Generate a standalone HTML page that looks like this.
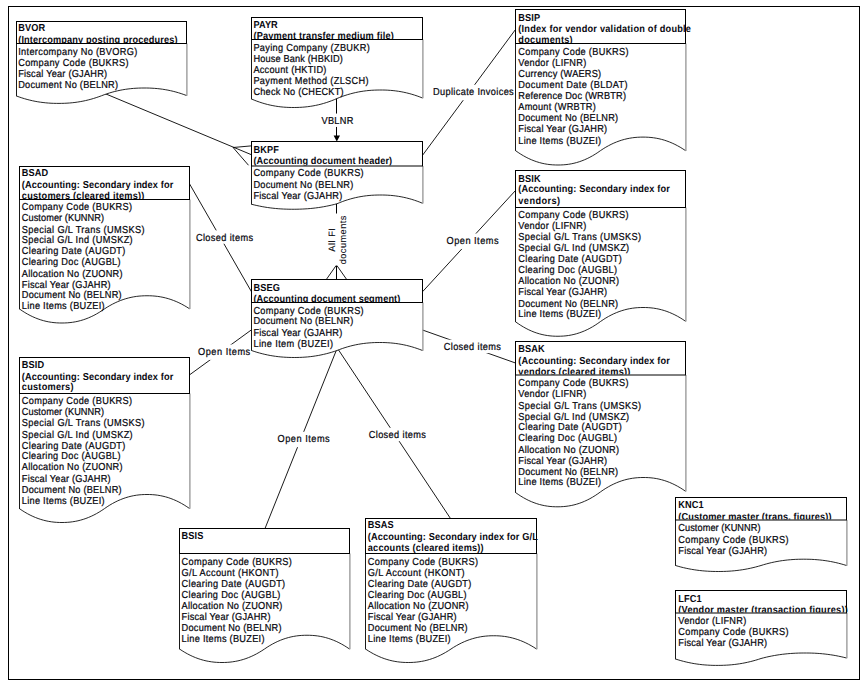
<!DOCTYPE html>
<html><head><meta charset="utf-8"><title>FI tables</title>
<style>html,body{margin:0;padding:0;background:#fff;}body{width:865px;height:682px;overflow:hidden;}svg{display:block;}text{font-family:"Liberation Sans",sans-serif;font-size:9.2px;fill:#08080f;text-rendering:geometricPrecision;}.r{letter-spacing:0.32px;stroke:#08080f;stroke-width:0.22px;}.b{font-weight:bold;letter-spacing:0.12px;}.ln{stroke:#000;stroke-width:0.9;fill:none;}</style></head><body>
<svg width="865" height="682" viewBox="0 0 865 682">
<rect x="0" y="0" width="865" height="682" fill="#fff"/>
<rect x="8.5" y="6.5" width="851" height="673" fill="none" stroke="#000" stroke-width="1"/>
<line class="ln" style="stroke-width:0.9" x1="100" y1="91.5" x2="251.5" y2="154.75"/>
<line class="ln" style="stroke-width:0.9" x1="233.1" y1="147.5" x2="255.4" y2="145.5"/>
<line class="ln" style="stroke-width:0.9" x1="233.1" y1="147.5" x2="248.5" y2="165.25"/>
<line class="ln" style="stroke-width:1" x1="336.5" y1="95" x2="336.5" y2="138"/>
<path d="M336.8 141.5 L333.6 135.6 L340.0 135.6 Z" fill="#000"/>
<line class="ln" style="stroke-width:0.9" x1="515.5" y1="29.5" x2="422.5" y2="155.3"/>
<line class="ln" style="stroke-width:1" x1="336.5" y1="200" x2="336.5" y2="279.5"/>
<line class="ln" style="stroke-width:0.9" x1="336.5" y1="265" x2="326.3" y2="279.5"/>
<line class="ln" style="stroke-width:0.9" x1="336.5" y1="265" x2="346.7" y2="279.5"/>
<line class="ln" style="stroke-width:0.9" x1="189.5" y1="183.8" x2="251.5" y2="291.8"/>
<line class="ln" style="stroke-width:0.9" x1="515.5" y1="190.5" x2="422.5" y2="291.75"/>
<line class="ln" style="stroke-width:0.9" x1="422.5" y1="330" x2="515.5" y2="363"/>
<line class="ln" style="stroke-width:0.9" x1="251.5" y1="329.8" x2="189.5" y2="374.9"/>
<line class="ln" style="stroke-width:0.9" x1="337.25" y1="348" x2="265" y2="528.5"/>
<line class="ln" style="stroke-width:0.9" x1="337.25" y1="348" x2="450.5" y2="518.5"/>
<rect x="320.50" y="113.55" width="33.60" height="13.40" fill="#fff"/>
<text class="r" transform="translate(321.50 123.85) scale(1 1.1)" textLength="32.20" lengthAdjust="spacing">VBLNR</text>
<rect x="431.95" y="84.80" width="82.50" height="15.40" fill="#fff"/>
<text class="r" transform="translate(432.95 95.10) scale(1 1.1)" textLength="81.10" lengthAdjust="spacing">Duplicate Invoices</text>
<rect x="324.5" y="213.5" width="25" height="52" fill="#fff"/>
<text class="r" style="stroke-width:0.1px" transform="translate(335.20 239.80) rotate(-90)" x="-12.00" y="0" textLength="24.00" lengthAdjust="spacing">All FI</text>
<text class="r" style="stroke-width:0.1px" transform="translate(345.90 239.80) rotate(-90)" x="-24.50" y="0" textLength="49.00" lengthAdjust="spacing">documents</text>
<rect x="194.90" y="230.35" width="59.00" height="13.40" fill="#fff"/>
<text class="r" transform="translate(195.90 240.65) scale(1 1.1)" textLength="57.60" lengthAdjust="spacing">Closed items</text>
<rect x="445.52" y="233.55" width="53.75" height="15.40" fill="#fff"/>
<text class="r" transform="translate(446.52 243.85) scale(1 1.1)" textLength="52.35" lengthAdjust="spacing">Open Items</text>
<rect x="442.70" y="339.70" width="59.00" height="13.40" fill="#fff"/>
<text class="r" transform="translate(443.70 350.00) scale(1 1.1)" textLength="57.60" lengthAdjust="spacing">Closed items</text>
<rect x="197.12" y="344.50" width="53.75" height="15.40" fill="#fff"/>
<text class="r" transform="translate(198.12 354.80) scale(1 1.1)" textLength="52.35" lengthAdjust="spacing">Open Items</text>
<rect x="276.62" y="431.80" width="53.75" height="15.40" fill="#fff"/>
<text class="r" transform="translate(277.62 442.10) scale(1 1.1)" textLength="52.35" lengthAdjust="spacing">Open Items</text>
<rect x="367.70" y="427.80" width="59.00" height="13.40" fill="#fff"/>
<text class="r" transform="translate(368.70 438.10) scale(1 1.1)" textLength="57.60" lengthAdjust="spacing">Closed items</text>
<path d="M16.5 43.5 L16.50 96.00 L19.16 96.97 L21.81 97.86 L24.47 98.69 L27.12 99.44 L29.78 100.12 L32.44 100.74 L35.09 101.29 L37.75 101.77 L40.41 102.18 L43.06 102.53 L45.72 102.82 L48.38 103.05 L51.03 103.22 L53.69 103.33 L56.34 103.39 L59.00 103.40 L61.66 103.37 L64.31 103.30 L66.97 103.17 L69.62 102.99 L72.28 102.74 L74.94 102.44 L77.59 102.07 L80.25 101.64 L82.91 101.15 L85.56 100.58 L88.22 99.95 L90.88 99.25 L93.53 98.48 L96.19 97.64 L98.84 96.73 L101.50 95.75 L104.16 94.75 L106.81 93.83 L109.47 92.98 L112.12 92.20 L114.78 91.49 L117.44 90.85 L120.09 90.28 L122.75 89.78 L125.41 89.34 L128.06 88.97 L130.72 88.66 L133.38 88.42 L136.03 88.23 L138.69 88.10 L141.34 88.03 L144.00 88.00 L146.66 88.01 L149.31 88.07 L151.97 88.19 L154.62 88.36 L157.28 88.59 L159.94 88.88 L162.59 89.23 L165.25 89.66 L167.91 90.14 L170.56 90.70 L173.22 91.32 L175.88 92.01 L178.53 92.78 L181.19 93.61 L183.84 94.52 L186.50 95.50 L186.5 43.5 Z" fill="#fff" stroke="none"/>
<path d="M16.50 96.00 L16.50 96.00 L19.16 96.97 L21.81 97.86 L24.47 98.69 L27.12 99.44 L29.78 100.12 L32.44 100.74 L35.09 101.29 L37.75 101.77 L40.41 102.18 L43.06 102.53 L45.72 102.82 L48.38 103.05 L51.03 103.22 L53.69 103.33 L56.34 103.39 L59.00 103.40 L61.66 103.37 L64.31 103.30 L66.97 103.17 L69.62 102.99 L72.28 102.74 L74.94 102.44 L77.59 102.07 L80.25 101.64 L82.91 101.15 L85.56 100.58 L88.22 99.95 L90.88 99.25 L93.53 98.48 L96.19 97.64 L98.84 96.73 L101.50 95.75 L104.16 94.75 L106.81 93.83 L109.47 92.98 L112.12 92.20 L114.78 91.49 L117.44 90.85 L120.09 90.28 L122.75 89.78 L125.41 89.34 L128.06 88.97 L130.72 88.66 L133.38 88.42 L136.03 88.23 L138.69 88.10 L141.34 88.03 L144.00 88.00 L146.66 88.01 L149.31 88.07 L151.97 88.19 L154.62 88.36 L157.28 88.59 L159.94 88.88 L162.59 89.23 L165.25 89.66 L167.91 90.14 L170.56 90.70 L173.22 91.32 L175.88 92.01 L178.53 92.78 L181.19 93.61 L183.84 94.52 L186.50 95.50" fill="none" stroke="#000" stroke-width="0.85" stroke-linejoin="round"/>
<line x1="16.5" y1="43.5" x2="16.5" y2="96.3" stroke="#1a1a1a" stroke-width="1"/>
<line x1="186.9" y1="43.5" x2="186.9" y2="95.8" stroke="#8c8c8c" stroke-width="1.2"/>
<rect x="16.5" y="21.5" width="170.0" height="22.0" fill="#fff" stroke="#000" stroke-width="1"/>
<clipPath id="c1"><rect x="16.5" y="21.5" width="210.0" height="21.6"/></clipPath>
<g clip-path="url(#c1)">
<text class="b" transform="translate(18.20 31.00) scale(1 1.1)">BVOR</text>
<text class="b" transform="translate(18.20 43.00) scale(1 1.1)" textLength="159.40" lengthAdjust="spacing">(Intercompany posting procedures)</text>
</g>
<text class="r" transform="translate(18.20 55.00) scale(1 1.1)" textLength="119.40" lengthAdjust="spacing">Intercompany No (BVORG)</text>
<text class="r" transform="translate(18.20 66.00) scale(1 1.1)" textLength="110.60" lengthAdjust="spacing">Company Code (BUKRS)</text>
<text class="r" transform="translate(18.20 77.00) scale(1 1.1)" textLength="89.20" lengthAdjust="spacing">Fiscal Year (GJAHR)</text>
<text class="r" transform="translate(18.20 88.00) scale(1 1.1)" textLength="100.20" lengthAdjust="spacing">Document No (BELNR)</text>
<path d="M251.5 39.5 L251.50 99.00 L254.17 100.12 L256.84 101.15 L259.52 102.10 L262.19 102.97 L264.86 103.76 L267.53 104.47 L270.20 105.10 L272.88 105.65 L275.55 106.13 L278.22 106.53 L280.89 106.86 L283.56 107.12 L286.23 107.31 L288.91 107.43 L291.58 107.49 L294.25 107.50 L296.92 107.46 L299.59 107.37 L302.27 107.21 L304.94 106.99 L307.61 106.70 L310.28 106.34 L312.95 105.91 L315.62 105.40 L318.30 104.82 L320.97 104.16 L323.64 103.42 L326.31 102.60 L328.98 101.70 L331.66 100.71 L334.33 99.65 L337.00 98.50 L339.67 97.42 L342.34 96.41 L345.02 95.48 L347.69 94.63 L350.36 93.86 L353.03 93.16 L355.70 92.54 L358.38 91.98 L361.05 91.50 L363.72 91.10 L366.39 90.75 L369.06 90.48 L371.73 90.27 L374.41 90.13 L377.08 90.04 L379.75 90.00 L382.42 90.01 L385.09 90.06 L387.77 90.18 L390.44 90.36 L393.11 90.60 L395.78 90.91 L398.45 91.29 L401.12 91.73 L403.80 92.25 L406.47 92.85 L409.14 93.51 L411.81 94.26 L414.48 95.08 L417.16 95.97 L419.83 96.95 L422.50 98.00 L422.5 39.5 Z" fill="#fff" stroke="none"/>
<path d="M251.50 99.00 L251.50 99.00 L254.17 100.12 L256.84 101.15 L259.52 102.10 L262.19 102.97 L264.86 103.76 L267.53 104.47 L270.20 105.10 L272.88 105.65 L275.55 106.13 L278.22 106.53 L280.89 106.86 L283.56 107.12 L286.23 107.31 L288.91 107.43 L291.58 107.49 L294.25 107.50 L296.92 107.46 L299.59 107.37 L302.27 107.21 L304.94 106.99 L307.61 106.70 L310.28 106.34 L312.95 105.91 L315.62 105.40 L318.30 104.82 L320.97 104.16 L323.64 103.42 L326.31 102.60 L328.98 101.70 L331.66 100.71 L334.33 99.65 L337.00 98.50 L339.67 97.42 L342.34 96.41 L345.02 95.48 L347.69 94.63 L350.36 93.86 L353.03 93.16 L355.70 92.54 L358.38 91.98 L361.05 91.50 L363.72 91.10 L366.39 90.75 L369.06 90.48 L371.73 90.27 L374.41 90.13 L377.08 90.04 L379.75 90.00 L382.42 90.01 L385.09 90.06 L387.77 90.18 L390.44 90.36 L393.11 90.60 L395.78 90.91 L398.45 91.29 L401.12 91.73 L403.80 92.25 L406.47 92.85 L409.14 93.51 L411.81 94.26 L414.48 95.08 L417.16 95.97 L419.83 96.95 L422.50 98.00" fill="none" stroke="#000" stroke-width="0.85" stroke-linejoin="round"/>
<line x1="251.5" y1="39.5" x2="251.5" y2="99.3" stroke="#1a1a1a" stroke-width="1"/>
<line x1="422.9" y1="39.5" x2="422.9" y2="98.3" stroke="#8c8c8c" stroke-width="1.2"/>
<rect x="251.5" y="17.5" width="171.0" height="22.0" fill="#fff" stroke="#000" stroke-width="1"/>
<clipPath id="c2"><rect x="251.5" y="17.5" width="211.0" height="21.6"/></clipPath>
<g clip-path="url(#c2)">
<text class="b" transform="translate(253.40 28.00) scale(1 1.1)">PAYR</text>
<text class="b" transform="translate(253.40 39.00) scale(1 1.1)" textLength="140.60" lengthAdjust="spacing">(Payment transfer medium file)</text>
</g>
<text class="r" transform="translate(253.40 51.00) scale(1 1.1)" textLength="116.70" lengthAdjust="spacing">Paying Company (ZBUKR)</text>
<text class="r" transform="translate(253.40 62.00) scale(1 1.1)" textLength="89.70" lengthAdjust="spacing">House Bank (HBKID)</text>
<text class="r" transform="translate(253.40 73.00) scale(1 1.1)" textLength="73.30" lengthAdjust="spacing">Account (HKTID)</text>
<text class="r" transform="translate(253.40 84.00) scale(1 1.1)" textLength="115.50" lengthAdjust="spacing">Payment Method (ZLSCH)</text>
<text class="r" transform="translate(253.40 95.00) scale(1 1.1)" textLength="90.50" lengthAdjust="spacing">Check No (CHECKT)</text>
<path d="M515.5 43.5 L515.50 150.60 L518.16 152.47 L520.81 154.19 L523.47 155.79 L526.12 157.24 L528.78 158.57 L531.44 159.76 L534.09 160.82 L536.75 161.76 L539.41 162.57 L542.06 163.25 L544.72 163.82 L547.38 164.27 L550.03 164.61 L552.69 164.84 L555.34 164.96 L558.00 165.00 L560.66 164.96 L563.31 164.84 L565.97 164.61 L568.62 164.27 L571.28 163.82 L573.94 163.25 L576.59 162.57 L579.25 161.76 L581.91 160.82 L584.56 159.76 L587.22 158.57 L589.88 157.24 L592.53 155.79 L595.19 154.19 L597.84 152.47 L600.50 150.60 L603.16 148.85 L605.81 147.23 L608.47 145.74 L611.12 144.37 L613.78 143.13 L616.44 142.01 L619.09 141.02 L621.75 140.14 L624.41 139.38 L627.06 138.74 L629.72 138.21 L632.38 137.79 L635.03 137.47 L637.69 137.25 L640.34 137.13 L643.00 137.10 L645.66 137.13 L648.31 137.25 L650.97 137.47 L653.62 137.79 L656.28 138.21 L658.94 138.74 L661.59 139.38 L664.25 140.14 L666.91 141.02 L669.56 142.01 L672.22 143.13 L674.88 144.37 L677.53 145.74 L680.19 147.23 L682.84 148.85 L685.50 150.60 L685.5 43.5 Z" fill="#fff" stroke="none"/>
<path d="M515.50 150.60 L515.50 150.60 L518.16 152.47 L520.81 154.19 L523.47 155.79 L526.12 157.24 L528.78 158.57 L531.44 159.76 L534.09 160.82 L536.75 161.76 L539.41 162.57 L542.06 163.25 L544.72 163.82 L547.38 164.27 L550.03 164.61 L552.69 164.84 L555.34 164.96 L558.00 165.00 L560.66 164.96 L563.31 164.84 L565.97 164.61 L568.62 164.27 L571.28 163.82 L573.94 163.25 L576.59 162.57 L579.25 161.76 L581.91 160.82 L584.56 159.76 L587.22 158.57 L589.88 157.24 L592.53 155.79 L595.19 154.19 L597.84 152.47 L600.50 150.60 L603.16 148.85 L605.81 147.23 L608.47 145.74 L611.12 144.37 L613.78 143.13 L616.44 142.01 L619.09 141.02 L621.75 140.14 L624.41 139.38 L627.06 138.74 L629.72 138.21 L632.38 137.79 L635.03 137.47 L637.69 137.25 L640.34 137.13 L643.00 137.10 L645.66 137.13 L648.31 137.25 L650.97 137.47 L653.62 137.79 L656.28 138.21 L658.94 138.74 L661.59 139.38 L664.25 140.14 L666.91 141.02 L669.56 142.01 L672.22 143.13 L674.88 144.37 L677.53 145.74 L680.19 147.23 L682.84 148.85 L685.50 150.60" fill="none" stroke="#000" stroke-width="0.85" stroke-linejoin="round"/>
<line x1="515.5" y1="43.5" x2="515.5" y2="150.9" stroke="#1a1a1a" stroke-width="1"/>
<line x1="685.9" y1="43.5" x2="685.9" y2="150.9" stroke="#8c8c8c" stroke-width="1.2"/>
<rect x="515.5" y="9.5" width="170.0" height="34.0" fill="#fff" stroke="#000" stroke-width="1"/>
<clipPath id="c3"><rect x="515.5" y="9.5" width="210.0" height="33.6"/></clipPath>
<g clip-path="url(#c3)">
<text class="b" transform="translate(518.30 20.50) scale(1 1.1)">BSIP</text>
<text class="b" transform="translate(518.30 32.00) scale(1 1.1)" textLength="172.80" lengthAdjust="spacing">(Index for vendor validation of double</text>
<text class="b" transform="translate(518.30 43.00) scale(1 1.1)" textLength="54.50" lengthAdjust="spacing">documents)</text>
</g>
<text class="r" transform="translate(518.30 55.00) scale(1 1.1)" textLength="110.60" lengthAdjust="spacing">Company Code (BUKRS)</text>
<text class="r" transform="translate(518.30 66.00) scale(1 1.1)" textLength="68.30" lengthAdjust="spacing">Vendor (LIFNR)</text>
<text class="r" transform="translate(518.30 77.00) scale(1 1.1)" textLength="83.20" lengthAdjust="spacing">Currency (WAERS)</text>
<text class="r" transform="translate(518.30 88.00) scale(1 1.1)" textLength="109.70" lengthAdjust="spacing">Document Date (BLDAT)</text>
<text class="r" transform="translate(518.30 99.00) scale(1 1.1)" textLength="108.00" lengthAdjust="spacing">Reference Doc (WRBTR)</text>
<text class="r" transform="translate(518.30 110.00) scale(1 1.1)" textLength="77.80" lengthAdjust="spacing">Amount (WRBTR)</text>
<text class="r" transform="translate(518.30 121.00) scale(1 1.1)" textLength="100.20" lengthAdjust="spacing">Document No (BELNR)</text>
<text class="r" transform="translate(518.30 132.00) scale(1 1.1)" textLength="89.20" lengthAdjust="spacing">Fiscal Year (GJAHR)</text>
<text class="r" transform="translate(518.30 144.00) scale(1 1.1)" textLength="83.20" lengthAdjust="spacing">Line Items (BUZEI)</text>
<path d="M251.5 166 L251.50 204.25 L254.17 204.91 L256.84 205.53 L259.52 206.09 L262.19 206.61 L264.86 207.08 L267.53 207.50 L270.20 207.87 L272.88 208.19 L275.55 208.47 L278.22 208.71 L280.89 208.90 L283.56 209.05 L286.23 209.15 L288.91 209.22 L291.58 209.25 L294.25 209.25 L296.92 209.22 L299.59 209.16 L302.27 209.06 L304.94 208.92 L307.61 208.74 L310.28 208.52 L312.95 208.25 L315.62 207.94 L318.30 207.59 L320.97 207.18 L323.64 206.73 L326.31 206.23 L328.98 205.69 L331.66 205.09 L334.33 204.45 L337.00 203.75 L339.67 202.63 L342.34 201.60 L345.02 200.64 L347.69 199.77 L350.36 198.97 L353.03 198.25 L355.70 197.61 L358.38 197.04 L361.05 196.55 L363.72 196.13 L366.39 195.78 L369.06 195.49 L371.73 195.28 L374.41 195.13 L377.08 195.04 L379.75 195.00 L382.42 195.01 L385.09 195.07 L387.77 195.19 L390.44 195.37 L393.11 195.62 L395.78 195.94 L398.45 196.33 L401.12 196.79 L403.80 197.33 L406.47 197.94 L409.14 198.63 L411.81 199.39 L414.48 200.24 L417.16 201.16 L419.83 202.16 L422.50 203.25 L422.5 166 Z" fill="#fff" stroke="none"/>
<path d="M251.50 204.25 L251.50 204.25 L254.17 204.91 L256.84 205.53 L259.52 206.09 L262.19 206.61 L264.86 207.08 L267.53 207.50 L270.20 207.87 L272.88 208.19 L275.55 208.47 L278.22 208.71 L280.89 208.90 L283.56 209.05 L286.23 209.15 L288.91 209.22 L291.58 209.25 L294.25 209.25 L296.92 209.22 L299.59 209.16 L302.27 209.06 L304.94 208.92 L307.61 208.74 L310.28 208.52 L312.95 208.25 L315.62 207.94 L318.30 207.59 L320.97 207.18 L323.64 206.73 L326.31 206.23 L328.98 205.69 L331.66 205.09 L334.33 204.45 L337.00 203.75 L339.67 202.63 L342.34 201.60 L345.02 200.64 L347.69 199.77 L350.36 198.97 L353.03 198.25 L355.70 197.61 L358.38 197.04 L361.05 196.55 L363.72 196.13 L366.39 195.78 L369.06 195.49 L371.73 195.28 L374.41 195.13 L377.08 195.04 L379.75 195.00 L382.42 195.01 L385.09 195.07 L387.77 195.19 L390.44 195.37 L393.11 195.62 L395.78 195.94 L398.45 196.33 L401.12 196.79 L403.80 197.33 L406.47 197.94 L409.14 198.63 L411.81 199.39 L414.48 200.24 L417.16 201.16 L419.83 202.16 L422.50 203.25" fill="none" stroke="#000" stroke-width="0.85" stroke-linejoin="round"/>
<line x1="251.5" y1="166" x2="251.5" y2="204.55" stroke="#1a1a1a" stroke-width="1"/>
<line x1="422.9" y1="166" x2="422.9" y2="203.55" stroke="#8c8c8c" stroke-width="1.2"/>
<rect x="251.5" y="141.5" width="171.0" height="24.5" fill="#fff" stroke="#000" stroke-width="1"/>
<clipPath id="c4"><rect x="251.5" y="141.5" width="211.0" height="24.1"/></clipPath>
<g clip-path="url(#c4)">
<text class="b" transform="translate(253.40 153.00) scale(1 1.1)">BKPF</text>
<text class="b" transform="translate(253.40 164.00) scale(1 1.1)" textLength="138.90" lengthAdjust="spacing">(Accounting document header)</text>
</g>
<text class="r" transform="translate(253.40 176.00) scale(1 1.1)" textLength="110.60" lengthAdjust="spacing">Company Code (BUKRS)</text>
<text class="r" transform="translate(253.40 188.00) scale(1 1.1)" textLength="100.20" lengthAdjust="spacing">Document No (BELNR)</text>
<text class="r" transform="translate(253.40 199.00) scale(1 1.1)" textLength="89.20" lengthAdjust="spacing">Fiscal Year (GJAHR)</text>
<path d="M19.5 199.5 L19.50 309.00 L22.16 310.82 L24.81 312.50 L27.47 314.05 L30.12 315.47 L32.78 316.76 L35.44 317.92 L38.09 318.95 L40.75 319.86 L43.41 320.65 L46.06 321.32 L48.72 321.87 L51.38 322.30 L54.03 322.63 L56.69 322.85 L59.34 322.97 L62.00 323.00 L64.66 322.96 L67.31 322.83 L69.97 322.60 L72.62 322.27 L75.28 321.83 L77.94 321.27 L80.59 320.59 L83.25 319.80 L85.91 318.88 L88.56 317.84 L91.22 316.67 L93.88 315.38 L96.53 313.95 L99.19 312.39 L101.84 310.70 L104.50 308.88 L107.16 307.18 L109.81 305.61 L112.47 304.16 L115.12 302.83 L117.78 301.63 L120.44 300.54 L123.09 299.58 L125.75 298.72 L128.41 297.99 L131.06 297.36 L133.72 296.84 L136.38 296.43 L139.03 296.12 L141.69 295.91 L144.34 295.79 L147.00 295.75 L149.66 295.78 L152.31 295.89 L154.97 296.10 L157.62 296.40 L160.28 296.80 L162.94 297.31 L165.59 297.93 L168.25 298.66 L170.91 299.51 L173.56 300.47 L176.22 301.54 L178.88 302.74 L181.53 304.06 L184.19 305.50 L186.84 307.06 L189.50 308.75 L189.5 199.5 Z" fill="#fff" stroke="none"/>
<path d="M19.50 309.00 L19.50 309.00 L22.16 310.82 L24.81 312.50 L27.47 314.05 L30.12 315.47 L32.78 316.76 L35.44 317.92 L38.09 318.95 L40.75 319.86 L43.41 320.65 L46.06 321.32 L48.72 321.87 L51.38 322.30 L54.03 322.63 L56.69 322.85 L59.34 322.97 L62.00 323.00 L64.66 322.96 L67.31 322.83 L69.97 322.60 L72.62 322.27 L75.28 321.83 L77.94 321.27 L80.59 320.59 L83.25 319.80 L85.91 318.88 L88.56 317.84 L91.22 316.67 L93.88 315.38 L96.53 313.95 L99.19 312.39 L101.84 310.70 L104.50 308.88 L107.16 307.18 L109.81 305.61 L112.47 304.16 L115.12 302.83 L117.78 301.63 L120.44 300.54 L123.09 299.58 L125.75 298.72 L128.41 297.99 L131.06 297.36 L133.72 296.84 L136.38 296.43 L139.03 296.12 L141.69 295.91 L144.34 295.79 L147.00 295.75 L149.66 295.78 L152.31 295.89 L154.97 296.10 L157.62 296.40 L160.28 296.80 L162.94 297.31 L165.59 297.93 L168.25 298.66 L170.91 299.51 L173.56 300.47 L176.22 301.54 L178.88 302.74 L181.53 304.06 L184.19 305.50 L186.84 307.06 L189.50 308.75" fill="none" stroke="#000" stroke-width="0.85" stroke-linejoin="round"/>
<line x1="19.5" y1="199.5" x2="19.5" y2="309.3" stroke="#1a1a1a" stroke-width="1"/>
<line x1="189.9" y1="199.5" x2="189.9" y2="309.05" stroke="#8c8c8c" stroke-width="1.2"/>
<rect x="19.5" y="166.5" width="170.0" height="33.0" fill="#fff" stroke="#000" stroke-width="1"/>
<clipPath id="c5"><rect x="19.5" y="166.5" width="210.0" height="32.6"/></clipPath>
<g clip-path="url(#c5)">
<text class="b" transform="translate(21.80 176.00) scale(1 1.1)">BSAD</text>
<text class="b" transform="translate(21.80 188.00) scale(1 1.1)" textLength="151.60" lengthAdjust="spacing">(Accounting: Secondary index for</text>
<text class="b" transform="translate(21.80 199.00) scale(1 1.1)" textLength="122.70" lengthAdjust="spacing">customers (cleared items))</text>
</g>
<text class="r" transform="translate(21.80 210.00) scale(1 1.1)" textLength="110.60" lengthAdjust="spacing">Company Code (BUKRS)</text>
<text class="r" transform="translate(21.80 221.00) scale(1 1.1)" textLength="82.60" lengthAdjust="spacing">Customer (KUNNR)</text>
<text class="r" transform="translate(21.80 233.00) scale(1 1.1)" textLength="123.10" lengthAdjust="spacing">Special G/L Trans (UMSKS)</text>
<text class="r" transform="translate(21.80 243.00) scale(1 1.1)" textLength="111.20" lengthAdjust="spacing">Special G/L Ind (UMSKZ)</text>
<text class="r" transform="translate(21.80 254.00) scale(1 1.1)" textLength="103.90" lengthAdjust="spacing">Clearing Date (AUGDT)</text>
<text class="r" transform="translate(21.80 265.00) scale(1 1.1)" textLength="99.10" lengthAdjust="spacing">Clearing Doc (AUGBL)</text>
<text class="r" transform="translate(21.80 277.00) scale(1 1.1)" textLength="101.10" lengthAdjust="spacing">Allocation No (ZUONR)</text>
<text class="r" transform="translate(21.80 288.00) scale(1 1.1)" textLength="89.20" lengthAdjust="spacing">Fiscal Year (GJAHR)</text>
<text class="r" transform="translate(21.80 298.00) scale(1 1.1)" textLength="100.20" lengthAdjust="spacing">Document No (BELNR)</text>
<text class="r" transform="translate(21.80 309.00) scale(1 1.1)" textLength="83.20" lengthAdjust="spacing">Line Items (BUZEI)</text>
<path d="M515.5 207.5 L515.50 321.75 L518.16 323.64 L520.81 325.38 L523.47 326.99 L526.12 328.46 L528.78 329.80 L531.44 331.00 L534.09 332.08 L536.75 333.02 L539.41 333.83 L542.06 334.52 L544.72 335.09 L547.38 335.54 L550.03 335.87 L552.69 336.10 L555.34 336.22 L558.00 336.25 L560.66 336.20 L563.31 336.07 L565.97 335.83 L568.62 335.48 L571.28 335.01 L573.94 334.43 L576.59 333.72 L579.25 332.89 L581.91 331.93 L584.56 330.85 L587.22 329.63 L589.88 328.28 L592.53 326.79 L595.19 325.17 L597.84 323.40 L600.50 321.50 L603.16 319.69 L605.81 318.02 L608.47 316.48 L611.12 315.07 L613.78 313.79 L616.44 312.63 L619.09 311.60 L621.75 310.69 L624.41 309.90 L627.06 309.23 L629.72 308.68 L632.38 308.24 L635.03 307.90 L637.69 307.67 L640.34 307.54 L643.00 307.50 L645.66 307.53 L648.31 307.64 L650.97 307.86 L653.62 308.17 L656.28 308.60 L658.94 309.14 L661.59 309.79 L664.25 310.56 L666.91 311.46 L669.56 312.47 L672.22 313.61 L674.88 314.88 L677.53 316.28 L680.19 317.80 L682.84 319.46 L685.50 321.25 L685.5 207.5 Z" fill="#fff" stroke="none"/>
<path d="M515.50 321.75 L515.50 321.75 L518.16 323.64 L520.81 325.38 L523.47 326.99 L526.12 328.46 L528.78 329.80 L531.44 331.00 L534.09 332.08 L536.75 333.02 L539.41 333.83 L542.06 334.52 L544.72 335.09 L547.38 335.54 L550.03 335.87 L552.69 336.10 L555.34 336.22 L558.00 336.25 L560.66 336.20 L563.31 336.07 L565.97 335.83 L568.62 335.48 L571.28 335.01 L573.94 334.43 L576.59 333.72 L579.25 332.89 L581.91 331.93 L584.56 330.85 L587.22 329.63 L589.88 328.28 L592.53 326.79 L595.19 325.17 L597.84 323.40 L600.50 321.50 L603.16 319.69 L605.81 318.02 L608.47 316.48 L611.12 315.07 L613.78 313.79 L616.44 312.63 L619.09 311.60 L621.75 310.69 L624.41 309.90 L627.06 309.23 L629.72 308.68 L632.38 308.24 L635.03 307.90 L637.69 307.67 L640.34 307.54 L643.00 307.50 L645.66 307.53 L648.31 307.64 L650.97 307.86 L653.62 308.17 L656.28 308.60 L658.94 309.14 L661.59 309.79 L664.25 310.56 L666.91 311.46 L669.56 312.47 L672.22 313.61 L674.88 314.88 L677.53 316.28 L680.19 317.80 L682.84 319.46 L685.50 321.25" fill="none" stroke="#000" stroke-width="0.85" stroke-linejoin="round"/>
<line x1="515.5" y1="207.5" x2="515.5" y2="322.05" stroke="#1a1a1a" stroke-width="1"/>
<line x1="685.9" y1="207.5" x2="685.9" y2="321.55" stroke="#8c8c8c" stroke-width="1.2"/>
<rect x="515.5" y="170.5" width="170.0" height="37.0" fill="#fff" stroke="#000" stroke-width="1"/>
<clipPath id="c6"><rect x="515.5" y="170.5" width="210.0" height="36.6"/></clipPath>
<g clip-path="url(#c6)">
<text class="b" transform="translate(518.30 182.00) scale(1 1.1)">BSIK</text>
<text class="b" transform="translate(518.30 192.00) scale(1 1.1)" textLength="151.60" lengthAdjust="spacing">(Accounting: Secondary index for</text>
<text class="b" transform="translate(518.30 204.00) scale(1 1.1)" textLength="42.00" lengthAdjust="spacing">vendors)</text>
</g>
<text class="r" transform="translate(518.30 218.00) scale(1 1.1)" textLength="110.60" lengthAdjust="spacing">Company Code (BUKRS)</text>
<text class="r" transform="translate(518.30 229.00) scale(1 1.1)" textLength="68.30" lengthAdjust="spacing">Vendor (LIFNR)</text>
<text class="r" transform="translate(518.30 240.00) scale(1 1.1)" textLength="123.10" lengthAdjust="spacing">Special G/L Trans (UMSKS)</text>
<text class="r" transform="translate(518.30 251.00) scale(1 1.1)" textLength="111.20" lengthAdjust="spacing">Special G/L Ind (UMSKZ)</text>
<text class="r" transform="translate(518.30 262.00) scale(1 1.1)" textLength="103.90" lengthAdjust="spacing">Clearing Date (AUGDT)</text>
<text class="r" transform="translate(518.30 273.00) scale(1 1.1)" textLength="99.10" lengthAdjust="spacing">Clearing Doc (AUGBL)</text>
<text class="r" transform="translate(518.30 284.00) scale(1 1.1)" textLength="101.10" lengthAdjust="spacing">Allocation No (ZUONR)</text>
<text class="r" transform="translate(518.30 295.00) scale(1 1.1)" textLength="89.20" lengthAdjust="spacing">Fiscal Year (GJAHR)</text>
<text class="r" transform="translate(518.30 307.00) scale(1 1.1)" textLength="100.20" lengthAdjust="spacing">Document No (BELNR)</text>
<text class="r" transform="translate(518.30 317.00) scale(1 1.1)" textLength="83.20" lengthAdjust="spacing">Line Items (BUZEI)</text>
<path d="M251.5 302.5 L251.50 350.50 L254.17 351.41 L256.84 352.25 L259.52 353.02 L262.19 353.73 L264.86 354.37 L267.53 354.95 L270.20 355.47 L272.88 355.92 L275.55 356.32 L278.22 356.65 L280.89 356.93 L283.56 357.14 L286.23 357.31 L288.91 357.42 L291.58 357.48 L294.25 357.50 L296.92 357.48 L299.59 357.42 L302.27 357.31 L304.94 357.14 L307.61 356.93 L310.28 356.65 L312.95 356.32 L315.62 355.92 L318.30 355.47 L320.97 354.95 L323.64 354.37 L326.31 353.73 L328.98 353.02 L331.66 352.25 L334.33 351.41 L337.00 350.50 L339.67 349.46 L342.34 348.50 L345.02 347.62 L347.69 346.81 L350.36 346.07 L353.03 345.41 L355.70 344.82 L358.38 344.30 L361.05 343.85 L363.72 343.47 L366.39 343.16 L369.06 342.91 L371.73 342.72 L374.41 342.59 L377.08 342.52 L379.75 342.50 L382.42 342.52 L385.09 342.59 L387.77 342.72 L390.44 342.91 L393.11 343.16 L395.78 343.47 L398.45 343.85 L401.12 344.30 L403.80 344.82 L406.47 345.41 L409.14 346.07 L411.81 346.81 L414.48 347.62 L417.16 348.50 L419.83 349.46 L422.50 350.50 L422.5 302.5 Z" fill="#fff" stroke="none"/>
<path d="M251.50 350.50 L251.50 350.50 L254.17 351.41 L256.84 352.25 L259.52 353.02 L262.19 353.73 L264.86 354.37 L267.53 354.95 L270.20 355.47 L272.88 355.92 L275.55 356.32 L278.22 356.65 L280.89 356.93 L283.56 357.14 L286.23 357.31 L288.91 357.42 L291.58 357.48 L294.25 357.50 L296.92 357.48 L299.59 357.42 L302.27 357.31 L304.94 357.14 L307.61 356.93 L310.28 356.65 L312.95 356.32 L315.62 355.92 L318.30 355.47 L320.97 354.95 L323.64 354.37 L326.31 353.73 L328.98 353.02 L331.66 352.25 L334.33 351.41 L337.00 350.50 L339.67 349.46 L342.34 348.50 L345.02 347.62 L347.69 346.81 L350.36 346.07 L353.03 345.41 L355.70 344.82 L358.38 344.30 L361.05 343.85 L363.72 343.47 L366.39 343.16 L369.06 342.91 L371.73 342.72 L374.41 342.59 L377.08 342.52 L379.75 342.50 L382.42 342.52 L385.09 342.59 L387.77 342.72 L390.44 342.91 L393.11 343.16 L395.78 343.47 L398.45 343.85 L401.12 344.30 L403.80 344.82 L406.47 345.41 L409.14 346.07 L411.81 346.81 L414.48 347.62 L417.16 348.50 L419.83 349.46 L422.50 350.50" fill="none" stroke="#000" stroke-width="0.85" stroke-linejoin="round"/>
<line x1="251.5" y1="302.5" x2="251.5" y2="350.8" stroke="#1a1a1a" stroke-width="1"/>
<line x1="422.9" y1="302.5" x2="422.9" y2="350.8" stroke="#8c8c8c" stroke-width="1.2"/>
<rect x="251.5" y="279.5" width="171.0" height="23.0" fill="#fff" stroke="#000" stroke-width="1"/>
<clipPath id="c7"><rect x="251.5" y="279.5" width="211.0" height="22.6"/></clipPath>
<g clip-path="url(#c7)">
<text class="b" transform="translate(253.40 291.00) scale(1 1.1)">BSEG</text>
<text class="b" transform="translate(253.40 302.00) scale(1 1.1)" textLength="147.10" lengthAdjust="spacing">(Accounting document segment)</text>
</g>
<text class="r" transform="translate(253.40 314.00) scale(1 1.1)" textLength="110.60" lengthAdjust="spacing">Company Code (BUKRS)</text>
<text class="r" transform="translate(253.40 324.00) scale(1 1.1)" textLength="100.20" lengthAdjust="spacing">Document No (BELNR)</text>
<text class="r" transform="translate(253.40 336.00) scale(1 1.1)" textLength="89.20" lengthAdjust="spacing">Fiscal Year (GJAHR)</text>
<text class="r" transform="translate(253.40 347.00) scale(1 1.1)" textLength="80.00" lengthAdjust="spacing">Line Item (BUZEI)</text>
<path d="M19.5 393.5 L19.50 508.70 L22.16 510.49 L24.81 512.15 L27.47 513.68 L30.12 515.08 L32.78 516.35 L35.44 517.49 L38.09 518.51 L40.75 519.40 L43.41 520.18 L46.06 520.84 L48.72 521.38 L51.38 521.81 L54.03 522.13 L56.69 522.35 L59.34 522.47 L62.00 522.50 L64.66 522.46 L67.31 522.34 L69.97 522.11 L72.62 521.78 L75.28 521.35 L77.94 520.80 L80.59 520.14 L83.25 519.35 L85.91 518.45 L88.56 517.43 L91.22 516.28 L93.88 515.00 L96.53 513.60 L99.19 512.06 L101.84 510.40 L104.50 508.60 L107.16 506.78 L109.81 505.09 L112.47 503.53 L115.12 502.11 L117.78 500.81 L120.44 499.65 L123.09 498.61 L125.75 497.69 L128.41 496.90 L131.06 496.22 L133.72 495.67 L136.38 495.23 L139.03 494.89 L141.69 494.67 L144.34 494.54 L147.00 494.50 L149.66 494.53 L152.31 494.65 L154.97 494.87 L157.62 495.20 L160.28 495.64 L162.94 496.19 L165.59 496.85 L168.25 497.64 L170.91 498.55 L173.56 499.58 L176.22 500.74 L178.88 502.03 L181.53 503.45 L184.19 505.00 L186.84 506.68 L189.50 508.50 L189.5 393.5 Z" fill="#fff" stroke="none"/>
<path d="M19.50 508.70 L19.50 508.70 L22.16 510.49 L24.81 512.15 L27.47 513.68 L30.12 515.08 L32.78 516.35 L35.44 517.49 L38.09 518.51 L40.75 519.40 L43.41 520.18 L46.06 520.84 L48.72 521.38 L51.38 521.81 L54.03 522.13 L56.69 522.35 L59.34 522.47 L62.00 522.50 L64.66 522.46 L67.31 522.34 L69.97 522.11 L72.62 521.78 L75.28 521.35 L77.94 520.80 L80.59 520.14 L83.25 519.35 L85.91 518.45 L88.56 517.43 L91.22 516.28 L93.88 515.00 L96.53 513.60 L99.19 512.06 L101.84 510.40 L104.50 508.60 L107.16 506.78 L109.81 505.09 L112.47 503.53 L115.12 502.11 L117.78 500.81 L120.44 499.65 L123.09 498.61 L125.75 497.69 L128.41 496.90 L131.06 496.22 L133.72 495.67 L136.38 495.23 L139.03 494.89 L141.69 494.67 L144.34 494.54 L147.00 494.50 L149.66 494.53 L152.31 494.65 L154.97 494.87 L157.62 495.20 L160.28 495.64 L162.94 496.19 L165.59 496.85 L168.25 497.64 L170.91 498.55 L173.56 499.58 L176.22 500.74 L178.88 502.03 L181.53 503.45 L184.19 505.00 L186.84 506.68 L189.50 508.50" fill="none" stroke="#000" stroke-width="0.85" stroke-linejoin="round"/>
<line x1="19.5" y1="393.5" x2="19.5" y2="509.0" stroke="#1a1a1a" stroke-width="1"/>
<line x1="189.9" y1="393.5" x2="189.9" y2="508.8" stroke="#8c8c8c" stroke-width="1.2"/>
<rect x="19.5" y="357.5" width="170.0" height="36.0" fill="#fff" stroke="#000" stroke-width="1"/>
<clipPath id="c8"><rect x="19.5" y="357.5" width="210.0" height="35.6"/></clipPath>
<g clip-path="url(#c8)">
<text class="b" transform="translate(21.80 368.00) scale(1 1.1)">BSID</text>
<text class="b" transform="translate(21.80 380.00) scale(1 1.1)" textLength="151.60" lengthAdjust="spacing">(Accounting: Secondary index for</text>
<text class="b" transform="translate(21.80 390.00) scale(1 1.1)" textLength="51.80" lengthAdjust="spacing">customers)</text>
</g>
<text class="r" transform="translate(21.80 404.00) scale(1 1.1)" textLength="110.60" lengthAdjust="spacing">Company Code (BUKRS)</text>
<text class="r" transform="translate(21.80 415.00) scale(1 1.1)" textLength="82.60" lengthAdjust="spacing">Customer (KUNNR)</text>
<text class="r" transform="translate(21.80 426.00) scale(1 1.1)" textLength="123.10" lengthAdjust="spacing">Special G/L Trans (UMSKS)</text>
<text class="r" transform="translate(21.80 438.00) scale(1 1.1)" textLength="111.20" lengthAdjust="spacing">Special G/L Ind (UMSKZ)</text>
<text class="r" transform="translate(21.80 449.00) scale(1 1.1)" textLength="103.90" lengthAdjust="spacing">Clearing Date (AUGDT)</text>
<text class="r" transform="translate(21.80 459.00) scale(1 1.1)" textLength="99.10" lengthAdjust="spacing">Clearing Doc (AUGBL)</text>
<text class="r" transform="translate(21.80 470.00) scale(1 1.1)" textLength="101.10" lengthAdjust="spacing">Allocation No (ZUONR)</text>
<text class="r" transform="translate(21.80 482.00) scale(1 1.1)" textLength="89.20" lengthAdjust="spacing">Fiscal Year (GJAHR)</text>
<text class="r" transform="translate(21.80 493.00) scale(1 1.1)" textLength="100.20" lengthAdjust="spacing">Document No (BELNR)</text>
<text class="r" transform="translate(21.80 504.00) scale(1 1.1)" textLength="83.20" lengthAdjust="spacing">Line Items (BUZEI)</text>
<path d="M515.5 375 L515.50 492.50 L518.16 494.37 L520.81 496.11 L523.47 497.70 L526.12 499.16 L528.78 500.49 L531.44 501.68 L534.09 502.73 L536.75 503.66 L539.41 504.47 L542.06 505.14 L544.72 505.70 L547.38 506.14 L550.03 506.46 L552.69 506.67 L555.34 506.78 L558.00 506.80 L560.66 506.74 L563.31 506.59 L565.97 506.34 L568.62 505.98 L571.28 505.50 L573.94 504.91 L576.59 504.19 L579.25 503.35 L581.91 502.38 L584.56 501.29 L587.22 500.06 L589.88 498.69 L592.53 497.20 L595.19 495.56 L597.84 493.79 L600.50 491.88 L603.16 490.03 L605.81 488.33 L608.47 486.75 L611.12 485.31 L613.78 484.00 L616.44 482.81 L619.09 481.76 L621.75 480.82 L624.41 480.01 L627.06 479.32 L629.72 478.75 L632.38 478.29 L635.03 477.94 L637.69 477.70 L640.34 477.56 L643.00 477.50 L645.66 477.52 L648.31 477.62 L650.97 477.83 L653.62 478.14 L656.28 478.56 L658.94 479.09 L661.59 479.74 L664.25 480.51 L666.91 481.41 L669.56 482.42 L672.22 483.57 L674.88 484.84 L677.53 486.24 L680.19 487.78 L682.84 489.45 L685.50 491.25 L685.5 375 Z" fill="#fff" stroke="none"/>
<path d="M515.50 492.50 L515.50 492.50 L518.16 494.37 L520.81 496.11 L523.47 497.70 L526.12 499.16 L528.78 500.49 L531.44 501.68 L534.09 502.73 L536.75 503.66 L539.41 504.47 L542.06 505.14 L544.72 505.70 L547.38 506.14 L550.03 506.46 L552.69 506.67 L555.34 506.78 L558.00 506.80 L560.66 506.74 L563.31 506.59 L565.97 506.34 L568.62 505.98 L571.28 505.50 L573.94 504.91 L576.59 504.19 L579.25 503.35 L581.91 502.38 L584.56 501.29 L587.22 500.06 L589.88 498.69 L592.53 497.20 L595.19 495.56 L597.84 493.79 L600.50 491.88 L603.16 490.03 L605.81 488.33 L608.47 486.75 L611.12 485.31 L613.78 484.00 L616.44 482.81 L619.09 481.76 L621.75 480.82 L624.41 480.01 L627.06 479.32 L629.72 478.75 L632.38 478.29 L635.03 477.94 L637.69 477.70 L640.34 477.56 L643.00 477.50 L645.66 477.52 L648.31 477.62 L650.97 477.83 L653.62 478.14 L656.28 478.56 L658.94 479.09 L661.59 479.74 L664.25 480.51 L666.91 481.41 L669.56 482.42 L672.22 483.57 L674.88 484.84 L677.53 486.24 L680.19 487.78 L682.84 489.45 L685.50 491.25" fill="none" stroke="#000" stroke-width="0.85" stroke-linejoin="round"/>
<line x1="515.5" y1="375" x2="515.5" y2="492.8" stroke="#1a1a1a" stroke-width="1"/>
<line x1="685.9" y1="375" x2="685.9" y2="491.55" stroke="#8c8c8c" stroke-width="1.2"/>
<rect x="515.5" y="341.5" width="170.0" height="33.5" fill="#fff" stroke="#000" stroke-width="1"/>
<clipPath id="c9"><rect x="515.5" y="341.5" width="210.0" height="33.1"/></clipPath>
<g clip-path="url(#c9)">
<text class="b" transform="translate(518.30 352.00) scale(1 1.1)">BSAK</text>
<text class="b" transform="translate(518.30 364.00) scale(1 1.1)" textLength="151.60" lengthAdjust="spacing">(Accounting: Secondary index for</text>
<text class="b" transform="translate(518.30 374.90) scale(1 1.1)" textLength="112.20" lengthAdjust="spacing">vendors (cleared items))</text>
</g>
<text class="r" transform="translate(518.30 386.00) scale(1 1.1)" textLength="110.60" lengthAdjust="spacing">Company Code (BUKRS)</text>
<text class="r" transform="translate(518.30 397.00) scale(1 1.1)" textLength="68.30" lengthAdjust="spacing">Vendor (LIFNR)</text>
<text class="r" transform="translate(518.30 409.00) scale(1 1.1)" textLength="123.10" lengthAdjust="spacing">Special G/L Trans (UMSKS)</text>
<text class="r" transform="translate(518.30 420.00) scale(1 1.1)" textLength="111.20" lengthAdjust="spacing">Special G/L Ind (UMSKZ)</text>
<text class="r" transform="translate(518.30 430.00) scale(1 1.1)" textLength="103.90" lengthAdjust="spacing">Clearing Date (AUGDT)</text>
<text class="r" transform="translate(518.30 441.00) scale(1 1.1)" textLength="99.10" lengthAdjust="spacing">Clearing Doc (AUGBL)</text>
<text class="r" transform="translate(518.30 453.00) scale(1 1.1)" textLength="101.10" lengthAdjust="spacing">Allocation No (ZUONR)</text>
<text class="r" transform="translate(518.30 464.00) scale(1 1.1)" textLength="89.20" lengthAdjust="spacing">Fiscal Year (GJAHR)</text>
<text class="r" transform="translate(518.30 475.00) scale(1 1.1)" textLength="100.20" lengthAdjust="spacing">Document No (BELNR)</text>
<text class="r" transform="translate(518.30 485.25) scale(1 1.1)" textLength="83.20" lengthAdjust="spacing">Line Items (BUZEI)</text>
<path d="M179.5 553.5 L179.50 649.00 L182.16 650.75 L184.81 652.37 L187.47 653.86 L190.12 655.23 L192.78 656.47 L195.44 657.59 L198.09 658.58 L200.75 659.46 L203.41 660.22 L206.06 660.86 L208.72 661.39 L211.38 661.81 L214.03 662.13 L216.69 662.35 L219.34 662.47 L222.00 662.50 L224.66 662.47 L227.31 662.35 L229.97 662.13 L232.62 661.81 L235.28 661.39 L237.94 660.86 L240.59 660.22 L243.25 659.46 L245.91 658.58 L248.56 657.59 L251.22 656.47 L253.88 655.23 L256.53 653.86 L259.19 652.37 L261.84 650.75 L264.50 649.00 L267.16 647.22 L269.81 645.57 L272.47 644.05 L275.12 642.66 L277.78 641.39 L280.44 640.26 L283.09 639.24 L285.75 638.35 L288.41 637.57 L291.06 636.92 L293.72 636.38 L296.38 635.95 L299.03 635.63 L301.69 635.41 L304.34 635.29 L307.00 635.25 L309.66 635.29 L312.31 635.41 L314.97 635.63 L317.62 635.95 L320.28 636.38 L322.94 636.92 L325.59 637.57 L328.25 638.35 L330.91 639.24 L333.56 640.26 L336.22 641.39 L338.88 642.66 L341.53 644.05 L344.19 645.57 L346.84 647.22 L349.50 649.00 L349.5 553.5 Z" fill="#fff" stroke="none"/>
<path d="M179.50 649.00 L179.50 649.00 L182.16 650.75 L184.81 652.37 L187.47 653.86 L190.12 655.23 L192.78 656.47 L195.44 657.59 L198.09 658.58 L200.75 659.46 L203.41 660.22 L206.06 660.86 L208.72 661.39 L211.38 661.81 L214.03 662.13 L216.69 662.35 L219.34 662.47 L222.00 662.50 L224.66 662.47 L227.31 662.35 L229.97 662.13 L232.62 661.81 L235.28 661.39 L237.94 660.86 L240.59 660.22 L243.25 659.46 L245.91 658.58 L248.56 657.59 L251.22 656.47 L253.88 655.23 L256.53 653.86 L259.19 652.37 L261.84 650.75 L264.50 649.00 L267.16 647.22 L269.81 645.57 L272.47 644.05 L275.12 642.66 L277.78 641.39 L280.44 640.26 L283.09 639.24 L285.75 638.35 L288.41 637.57 L291.06 636.92 L293.72 636.38 L296.38 635.95 L299.03 635.63 L301.69 635.41 L304.34 635.29 L307.00 635.25 L309.66 635.29 L312.31 635.41 L314.97 635.63 L317.62 635.95 L320.28 636.38 L322.94 636.92 L325.59 637.57 L328.25 638.35 L330.91 639.24 L333.56 640.26 L336.22 641.39 L338.88 642.66 L341.53 644.05 L344.19 645.57 L346.84 647.22 L349.50 649.00" fill="none" stroke="#000" stroke-width="0.85" stroke-linejoin="round"/>
<line x1="179.5" y1="553.5" x2="179.5" y2="649.3" stroke="#1a1a1a" stroke-width="1"/>
<line x1="349.9" y1="553.5" x2="349.9" y2="649.3" stroke="#8c8c8c" stroke-width="1.2"/>
<rect x="179.5" y="528.5" width="170.0" height="25.0" fill="#fff" stroke="#000" stroke-width="1"/>
<clipPath id="c10"><rect x="179.5" y="528.5" width="210.0" height="24.6"/></clipPath>
<g clip-path="url(#c10)">
<text class="b" transform="translate(181.60 539.00) scale(1 1.1)">BSIS</text>
</g>
<text class="r" transform="translate(181.60 565.00) scale(1 1.1)" textLength="110.60" lengthAdjust="spacing">Company Code (BUKRS)</text>
<text class="r" transform="translate(181.60 576.00) scale(1 1.1)" textLength="97.20" lengthAdjust="spacing">G/L Account (HKONT)</text>
<text class="r" transform="translate(181.60 587.00) scale(1 1.1)" textLength="103.90" lengthAdjust="spacing">Clearing Date (AUGDT)</text>
<text class="r" transform="translate(181.60 598.00) scale(1 1.1)" textLength="99.10" lengthAdjust="spacing">Clearing Doc (AUGBL)</text>
<text class="r" transform="translate(181.60 609.00) scale(1 1.1)" textLength="101.10" lengthAdjust="spacing">Allocation No (ZUONR)</text>
<text class="r" transform="translate(181.60 620.00) scale(1 1.1)" textLength="89.20" lengthAdjust="spacing">Fiscal Year (GJAHR)</text>
<text class="r" transform="translate(181.60 631.00) scale(1 1.1)" textLength="100.20" lengthAdjust="spacing">Document No (BELNR)</text>
<text class="r" transform="translate(181.60 642.00) scale(1 1.1)" textLength="83.20" lengthAdjust="spacing">Line Items (BUZEI)</text>
<path d="M365.5 553.5 L365.50 649.00 L368.17 650.75 L370.84 652.37 L373.52 653.86 L376.19 655.23 L378.86 656.47 L381.53 657.59 L384.20 658.58 L386.88 659.46 L389.55 660.22 L392.22 660.86 L394.89 661.39 L397.56 661.81 L400.23 662.13 L402.91 662.35 L405.58 662.47 L408.25 662.50 L410.92 662.47 L413.59 662.35 L416.27 662.13 L418.94 661.81 L421.61 661.39 L424.28 660.86 L426.95 660.22 L429.62 659.46 L432.30 658.58 L434.97 657.59 L437.64 656.47 L440.31 655.23 L442.98 653.86 L445.66 652.37 L448.33 650.75 L451.00 649.00 L453.67 647.28 L456.34 645.69 L459.02 644.23 L461.69 642.89 L464.36 641.67 L467.03 640.57 L469.70 639.60 L472.38 638.74 L475.05 637.99 L477.72 637.36 L480.39 636.84 L483.06 636.42 L485.73 636.11 L488.41 635.90 L491.08 635.78 L493.75 635.75 L496.42 635.78 L499.09 635.90 L501.77 636.11 L504.44 636.42 L507.11 636.84 L509.78 637.36 L512.45 637.99 L515.12 638.74 L517.80 639.60 L520.47 640.57 L523.14 641.67 L525.81 642.89 L528.48 644.23 L531.16 645.69 L533.83 647.28 L536.50 649.00 L536.5 553.5 Z" fill="#fff" stroke="none"/>
<path d="M365.50 649.00 L365.50 649.00 L368.17 650.75 L370.84 652.37 L373.52 653.86 L376.19 655.23 L378.86 656.47 L381.53 657.59 L384.20 658.58 L386.88 659.46 L389.55 660.22 L392.22 660.86 L394.89 661.39 L397.56 661.81 L400.23 662.13 L402.91 662.35 L405.58 662.47 L408.25 662.50 L410.92 662.47 L413.59 662.35 L416.27 662.13 L418.94 661.81 L421.61 661.39 L424.28 660.86 L426.95 660.22 L429.62 659.46 L432.30 658.58 L434.97 657.59 L437.64 656.47 L440.31 655.23 L442.98 653.86 L445.66 652.37 L448.33 650.75 L451.00 649.00 L453.67 647.28 L456.34 645.69 L459.02 644.23 L461.69 642.89 L464.36 641.67 L467.03 640.57 L469.70 639.60 L472.38 638.74 L475.05 637.99 L477.72 637.36 L480.39 636.84 L483.06 636.42 L485.73 636.11 L488.41 635.90 L491.08 635.78 L493.75 635.75 L496.42 635.78 L499.09 635.90 L501.77 636.11 L504.44 636.42 L507.11 636.84 L509.78 637.36 L512.45 637.99 L515.12 638.74 L517.80 639.60 L520.47 640.57 L523.14 641.67 L525.81 642.89 L528.48 644.23 L531.16 645.69 L533.83 647.28 L536.50 649.00" fill="none" stroke="#000" stroke-width="0.85" stroke-linejoin="round"/>
<line x1="365.5" y1="553.5" x2="365.5" y2="649.3" stroke="#1a1a1a" stroke-width="1"/>
<line x1="536.9" y1="553.5" x2="536.9" y2="649.3" stroke="#8c8c8c" stroke-width="1.2"/>
<rect x="365.5" y="518.5" width="171.0" height="35.0" fill="#fff" stroke="#000" stroke-width="1"/>
<clipPath id="c11"><rect x="365.5" y="518.5" width="211.0" height="34.6"/></clipPath>
<g clip-path="url(#c11)">
<text class="b" transform="translate(367.80 528.00) scale(1 1.1)">BSAS</text>
<text class="b" transform="translate(367.80 540.00) scale(1 1.1)" textLength="170.10" lengthAdjust="spacing">(Accounting: Secondary index for G/L</text>
<text class="b" transform="translate(367.80 551.00) scale(1 1.1)" textLength="116.00" lengthAdjust="spacing">accounts (cleared items))</text>
</g>
<text class="r" transform="translate(367.80 565.00) scale(1 1.1)" textLength="110.60" lengthAdjust="spacing">Company Code (BUKRS)</text>
<text class="r" transform="translate(367.80 576.00) scale(1 1.1)" textLength="97.20" lengthAdjust="spacing">G/L Account (HKONT)</text>
<text class="r" transform="translate(367.80 587.00) scale(1 1.1)" textLength="103.90" lengthAdjust="spacing">Clearing Date (AUGDT)</text>
<text class="r" transform="translate(367.80 598.00) scale(1 1.1)" textLength="99.10" lengthAdjust="spacing">Clearing Doc (AUGBL)</text>
<text class="r" transform="translate(367.80 609.00) scale(1 1.1)" textLength="101.10" lengthAdjust="spacing">Allocation No (ZUONR)</text>
<text class="r" transform="translate(367.80 620.00) scale(1 1.1)" textLength="89.20" lengthAdjust="spacing">Fiscal Year (GJAHR)</text>
<text class="r" transform="translate(367.80 631.00) scale(1 1.1)" textLength="100.20" lengthAdjust="spacing">Document No (BELNR)</text>
<text class="r" transform="translate(367.80 642.00) scale(1 1.1)" textLength="83.20" lengthAdjust="spacing">Line Items (BUZEI)</text>
<path d="M675.5 520 L675.50 565.50 L678.17 566.28 L680.84 567.00 L683.52 567.66 L686.19 568.27 L688.86 568.82 L691.53 569.32 L694.20 569.76 L696.88 570.15 L699.55 570.49 L702.22 570.77 L704.89 571.01 L707.56 571.20 L710.23 571.34 L712.91 571.43 L715.58 571.48 L718.25 571.50 L720.92 571.48 L723.59 571.43 L726.27 571.34 L728.94 571.20 L731.61 571.01 L734.28 570.77 L736.95 570.49 L739.62 570.15 L742.30 569.76 L744.97 569.32 L747.64 568.82 L750.31 568.27 L752.98 567.66 L755.66 567.00 L758.33 566.28 L761.00 565.50 L763.67 564.68 L766.34 563.93 L769.02 563.23 L771.69 562.59 L774.36 562.01 L777.03 561.49 L779.70 561.03 L782.38 560.62 L785.05 560.27 L787.72 559.96 L790.39 559.72 L793.06 559.52 L795.73 559.37 L798.41 559.27 L801.08 559.22 L803.75 559.20 L806.42 559.22 L809.09 559.27 L811.77 559.37 L814.44 559.52 L817.11 559.72 L819.78 559.96 L822.45 560.27 L825.12 560.62 L827.80 561.03 L830.47 561.49 L833.14 562.01 L835.81 562.59 L838.48 563.23 L841.16 563.93 L843.83 564.68 L846.50 565.50 L846.5 520 Z" fill="#fff" stroke="none"/>
<path d="M675.50 565.50 L675.50 565.50 L678.17 566.28 L680.84 567.00 L683.52 567.66 L686.19 568.27 L688.86 568.82 L691.53 569.32 L694.20 569.76 L696.88 570.15 L699.55 570.49 L702.22 570.77 L704.89 571.01 L707.56 571.20 L710.23 571.34 L712.91 571.43 L715.58 571.48 L718.25 571.50 L720.92 571.48 L723.59 571.43 L726.27 571.34 L728.94 571.20 L731.61 571.01 L734.28 570.77 L736.95 570.49 L739.62 570.15 L742.30 569.76 L744.97 569.32 L747.64 568.82 L750.31 568.27 L752.98 567.66 L755.66 567.00 L758.33 566.28 L761.00 565.50 L763.67 564.68 L766.34 563.93 L769.02 563.23 L771.69 562.59 L774.36 562.01 L777.03 561.49 L779.70 561.03 L782.38 560.62 L785.05 560.27 L787.72 559.96 L790.39 559.72 L793.06 559.52 L795.73 559.37 L798.41 559.27 L801.08 559.22 L803.75 559.20 L806.42 559.22 L809.09 559.27 L811.77 559.37 L814.44 559.52 L817.11 559.72 L819.78 559.96 L822.45 560.27 L825.12 560.62 L827.80 561.03 L830.47 561.49 L833.14 562.01 L835.81 562.59 L838.48 563.23 L841.16 563.93 L843.83 564.68 L846.50 565.50" fill="none" stroke="#000" stroke-width="0.85" stroke-linejoin="round"/>
<line x1="675.5" y1="520" x2="675.5" y2="565.8" stroke="#1a1a1a" stroke-width="1"/>
<line x1="846.9" y1="520" x2="846.9" y2="565.8" stroke="#8c8c8c" stroke-width="1.2"/>
<rect x="675.5" y="497.5" width="171.0" height="22.5" fill="#fff" stroke="#000" stroke-width="1"/>
<clipPath id="c12"><rect x="675.5" y="497.5" width="211.0" height="22.1"/></clipPath>
<g clip-path="url(#c12)">
<text class="b" transform="translate(678.30 508.00) scale(1 1.1)">KNC1</text>
<text class="b" transform="translate(678.30 519.70) scale(1 1.1)" textLength="153.30" lengthAdjust="spacing">(Customer master (trans. figures))</text>
</g>
<text class="r" transform="translate(678.30 531.00) scale(1 1.1)" textLength="82.60" lengthAdjust="spacing">Customer (KUNNR)</text>
<text class="r" transform="translate(678.30 543.00) scale(1 1.1)" textLength="110.60" lengthAdjust="spacing">Company Code (BUKRS)</text>
<text class="r" transform="translate(678.30 554.00) scale(1 1.1)" textLength="89.20" lengthAdjust="spacing">Fiscal Year (GJAHR)</text>
<path d="M675.5 613 L675.50 659.00 L678.17 659.85 L680.84 660.63 L683.52 661.35 L686.19 662.00 L688.86 662.60 L691.53 663.14 L694.20 663.61 L696.88 664.03 L699.55 664.38 L702.22 664.69 L704.89 664.93 L707.56 665.12 L710.23 665.26 L712.91 665.36 L715.58 665.40 L718.25 665.40 L720.92 665.37 L723.59 665.29 L726.27 665.17 L728.94 665.00 L731.61 664.78 L734.28 664.50 L736.95 664.17 L739.62 663.78 L742.30 663.33 L744.97 662.82 L747.64 662.26 L750.31 661.63 L752.98 660.94 L755.66 660.19 L758.33 659.38 L761.00 658.50 L763.67 657.80 L766.34 657.16 L769.02 656.56 L771.69 656.02 L774.36 655.52 L777.03 655.07 L779.70 654.66 L782.38 654.31 L785.05 654.00 L787.72 653.73 L790.39 653.51 L793.06 653.33 L795.73 653.19 L798.41 653.09 L801.08 653.03 L803.75 653.00 L806.42 653.00 L809.09 653.03 L811.77 653.10 L814.44 653.20 L817.11 653.35 L819.78 653.54 L822.45 653.78 L825.12 654.06 L827.80 654.38 L830.47 654.75 L833.14 655.17 L835.81 655.64 L838.48 656.16 L841.16 656.72 L843.83 657.34 L846.50 658.00 L846.5 613 Z" fill="#fff" stroke="none"/>
<path d="M675.50 659.00 L675.50 659.00 L678.17 659.85 L680.84 660.63 L683.52 661.35 L686.19 662.00 L688.86 662.60 L691.53 663.14 L694.20 663.61 L696.88 664.03 L699.55 664.38 L702.22 664.69 L704.89 664.93 L707.56 665.12 L710.23 665.26 L712.91 665.36 L715.58 665.40 L718.25 665.40 L720.92 665.37 L723.59 665.29 L726.27 665.17 L728.94 665.00 L731.61 664.78 L734.28 664.50 L736.95 664.17 L739.62 663.78 L742.30 663.33 L744.97 662.82 L747.64 662.26 L750.31 661.63 L752.98 660.94 L755.66 660.19 L758.33 659.38 L761.00 658.50 L763.67 657.80 L766.34 657.16 L769.02 656.56 L771.69 656.02 L774.36 655.52 L777.03 655.07 L779.70 654.66 L782.38 654.31 L785.05 654.00 L787.72 653.73 L790.39 653.51 L793.06 653.33 L795.73 653.19 L798.41 653.09 L801.08 653.03 L803.75 653.00 L806.42 653.00 L809.09 653.03 L811.77 653.10 L814.44 653.20 L817.11 653.35 L819.78 653.54 L822.45 653.78 L825.12 654.06 L827.80 654.38 L830.47 654.75 L833.14 655.17 L835.81 655.64 L838.48 656.16 L841.16 656.72 L843.83 657.34 L846.50 658.00" fill="none" stroke="#000" stroke-width="0.85" stroke-linejoin="round"/>
<line x1="675.5" y1="613" x2="675.5" y2="659.3" stroke="#1a1a1a" stroke-width="1"/>
<line x1="846.9" y1="613" x2="846.9" y2="658.3" stroke="#8c8c8c" stroke-width="1.2"/>
<rect x="675.5" y="590.5" width="171.0" height="22.5" fill="#fff" stroke="#000" stroke-width="1"/>
<clipPath id="c13"><rect x="675.5" y="590.5" width="211.0" height="22.1"/></clipPath>
<g clip-path="url(#c13)">
<text class="b" transform="translate(678.30 602.00) scale(1 1.1)">LFC1</text>
<text class="b" transform="translate(678.30 613.00) scale(1 1.1)" textLength="169.60" lengthAdjust="spacing">(Vendor master (transaction figures))</text>
</g>
<text class="r" transform="translate(678.30 624.00) scale(1 1.1)" textLength="68.30" lengthAdjust="spacing">Vendor (LIFNR)</text>
<text class="r" transform="translate(678.30 635.00) scale(1 1.1)" textLength="110.60" lengthAdjust="spacing">Company Code (BUKRS)</text>
<text class="r" transform="translate(678.30 646.00) scale(1 1.1)" textLength="89.20" lengthAdjust="spacing">Fiscal Year (GJAHR)</text>
</svg></body></html>
